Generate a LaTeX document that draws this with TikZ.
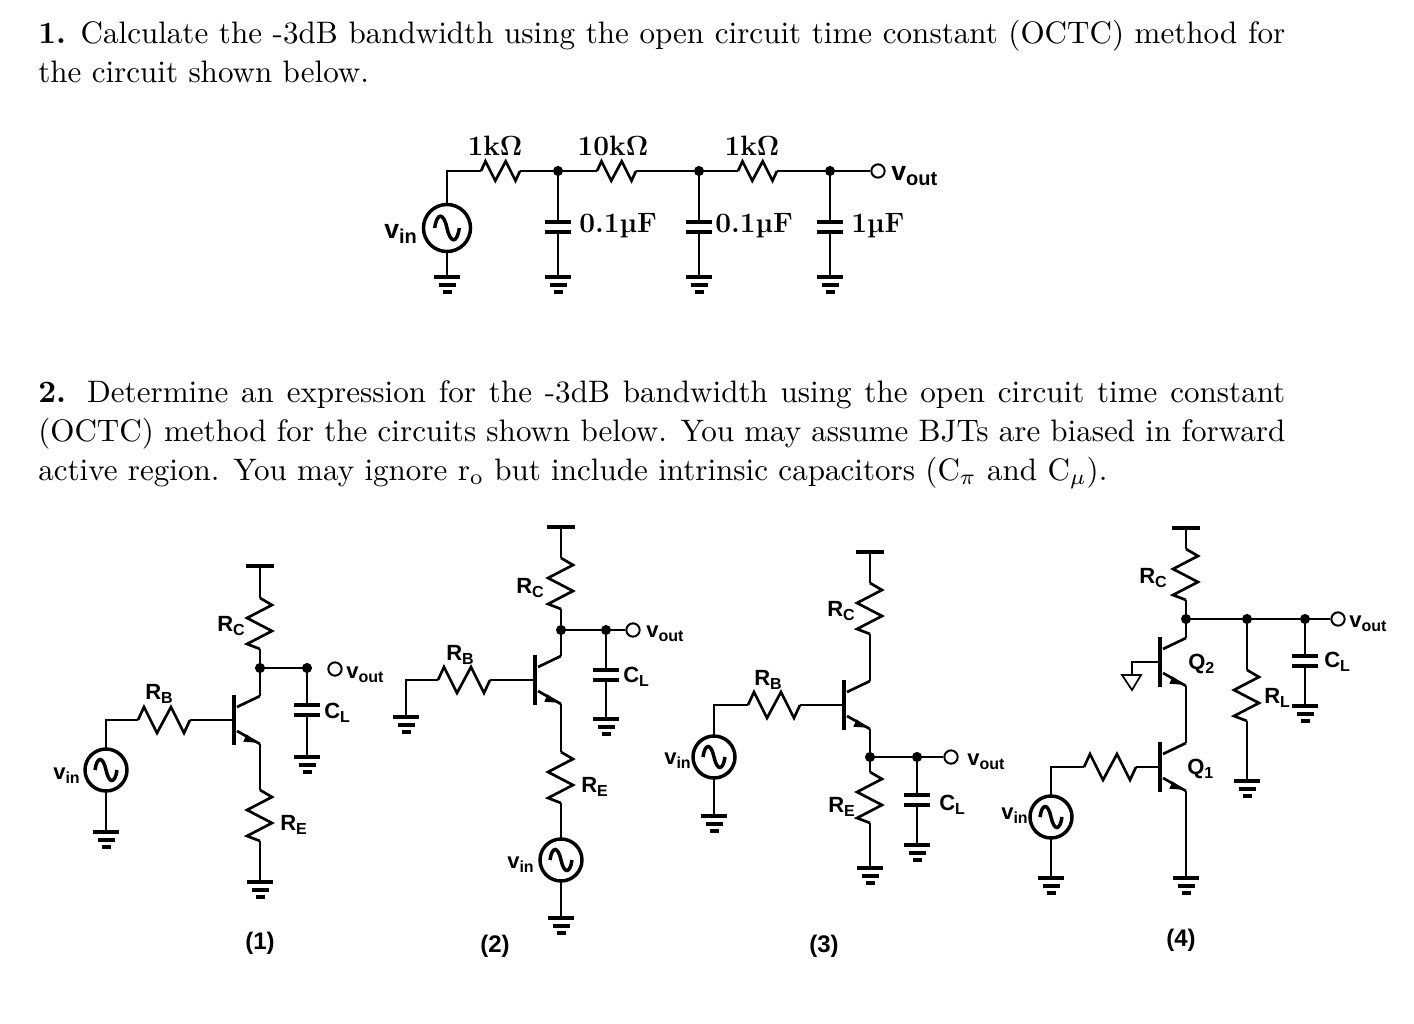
\documentclass[tikz,border=0pt]{standalone}
\usepackage[no-math]{fontspec}
\usepackage{amsmath, amssymb}
\newfontfamily\lblfont{Liberation Sans}
\newcommand{\cirlbl}[2]{{\lblfont\bfseries\fontsize{16.5}{16.5}\selectfont #1\raisebox{-3pt}{\fontsize{12}{12}\selectfont #2}}}
\newcommand{\biglbl}[2]{{\lblfont\bfseries\fontsize{20}{20}\selectfont #1\raisebox{-3.5pt}{\fontsize{15}{15}\selectfont #2}}}
\newcommand{\vallbl}[1]{{\bfseries\fontsize{21}{21}\selectfont #1}}
\newcommand{\capnum}[1]{{\lblfont\bfseries\fontsize{18}{18}\selectfont #1}}
\tikzset{
  wire/.style={line width=2},
  jdot/.style={circle,fill=black,inner sep=0pt,minimum size=7.6pt},
  opendot/.style={circle,draw,line width=1.5,inner sep=0pt,minimum size=10pt},
  txtlbl/.style={anchor=west,inner sep=0.75pt},
  pics/resh/.style={code={
    \draw[wire] (0,0) -- (6,13) -- (19,-13) -- (33,13) -- (46,-13) -- (52,0);
    \coordinate (-a) at (0,0); \coordinate (-b) at (52,0);
  }},
  pics/resv/.style={code={
    \draw[wire] (0,0) -- (12,-7) -- (-13,-20) -- (12,-33) -- (-13,-46) -- (0,-51);
    \coordinate (-a) at (0,0); \coordinate (-b) at (0,-51);
  }},
  pics/capv/.style={code={
    \draw[line width=2.7] (-13,5) -- (13,5) (-13,-5) -- (13,-5);
    \coordinate (-a) at (0,5); \coordinate (-b) at (0,-5);
  }},
  pics/gndsym/.style={code={
    \draw[line width=2.7] (-13,0) -- (13,0);
    \draw[line width=2.7] (-8.5,-8) -- (8.5,-8);
    \draw[line width=2.7] (-4.5,-15) -- (4.5,-15);
    \coordinate (-a) at (0,0);
  }},
  pics/vddbar/.style={code={
    \draw[line width=2.7] (-14,0) -- (14,0);
    \coordinate (-a) at (0,0);
  }},
  pics/srcac/.style={code={
    \draw[line width=2.6] (0,0) circle (21);
    \draw[line width=2.6] (-11,0) .. controls (-9,14) and (-3,14) .. (0,0) .. controls (3,-14) and (9,-14) .. (11,0);
    \coordinate (-t) at (0,21); \coordinate (-b) at (0,-21);
  }},
  pics/npnq/.style={code={
    \draw[line width=2.7] (0,-25) -- (0,25);
    \draw[wire] (3,13) -- (26,24);
    \draw[wire] (3,-11) -- (26,-24);
    \fill (22.7,-22.7) -- (12.7,-14.3) -- (9.3,-21.7) -- cycle;
    \coordinate (-g) at (0,0); \coordinate (-c) at (26,24); \coordinate (-e) at (26,-24);
  }}
}

\begin{document}
\begin{tikzpicture}[x=0.75pt,y=0.75pt,yscale=-1,xscale=1]
  \useasboundingbox (0,0) rectangle (1414,1024);

  % Text Node
  \node (probA) [anchor=north west,inner sep=0pt] at (38,20) {\scalebox{2.33}{\parbox{401.4pt}{\baselineskip=12.55pt
    \textbf{1.} Calculate the -3dB bandwidth using the open circuit time constant (OCTC) method for\linebreak
    the circuit shown below.}}};
  % Text Node
  \node (probB) [anchor=north west,inner sep=0pt] at (38,380) {\scalebox{2.33}{\parbox{401.4pt}{\baselineskip=12.55pt
    \textbf{2.} Determine an expression for the -3dB bandwidth using the open circuit time constant\linebreak
    (OCTC) method for the circuits shown below. You may assume BJTs are biased in forward\linebreak
    active region. You may ignore r$_{\mathrm{o}}$ but include intrinsic capacitors (C$_\pi$ and C$_\mu$).}}};

  %Shape: RC ladder
  \pic[scale=1.12] (vsA) at (447,228) {srcac};
  \pic (gsA) at (447,277) {gndsym};
  \pic[scale=0.75] (rA) at (481,171) {resh};
  \pic[scale=0.75] (rB) at (597,171) {resh};
  \pic[scale=0.75] (rC) at (738,171) {resh};
  \node[jdot] (nA) at (558,171) {};
  \node[jdot] (nB) at (699,171) {};
  \node[jdot] (nC) at (830,171) {};
  \node[opendot] (outA) at (878,171) {};
  \pic (cA) at (558,227) {capv};
  \pic (cB) at (699,227) {capv};
  \pic (cC) at (830,227) {capv};
  \pic (gA) at (558,277) {gndsym};
  \pic (gB) at (699,277) {gndsym};
  \pic (gC) at (830,277) {gndsym};
  \draw[wire] (vsA-t) |- (rA-a);
  \draw[wire] (vsA-b) -- (gsA-a);
  \draw[wire] (rA-b) -- (nA);
  \draw[wire] (nA) -- (rB-a);
  \draw[wire] (rB-b) -- (nB);
  \draw[wire] (nB) -- (rC-a);
  \draw[wire] (rC-b) -- (nC);
  \draw[wire] (nC) -- (outA);
  \foreach \k in {A,B,C} {
    \draw[wire] (n\k) -- (c\k-a);
    \draw[wire] (c\k-b) -- (g\k-a);
  }
  \node[txtlbl] (lblVinA) at (383,234) {\biglbl{v}{in}};
  \node[txtlbl] (lblVoutA) at (890,176) {\biglbl{v}{out}};
  \node[anchor=center,inner sep=0.75pt] (lblRA) at (495,146) {\vallbl{1k$\mathbf{\Omega}$}};
  \node[anchor=center,inner sep=0.75pt] (lblRB) at (613,146) {\vallbl{10k$\mathbf{\Omega}$}};
  \node[anchor=center,inner sep=0.75pt] (lblRC) at (752,146) {\vallbl{1k$\mathbf{\Omega}$}};
  \node[txtlbl] (lblCA) at (578,226) {\vallbl{0.1µF}};
  \node[txtlbl] (lblCB) at (714,226) {\vallbl{0.1µF}};
  \node[txtlbl] (lblCC) at (850,226) {\vallbl{1µF}};

  %Shape: Circuit 1
  \pic (qI) at (234,720) {npnq};
  \pic (vddI) at (260,566) {vddbar};
  \pic (rcI) at (260,598) {resv};
  \pic (reI) at (260,790) {resv};
  \pic (gI) at (260,882) {gndsym};
  \pic (vsI) at (106,770) {srcac};
  \pic (gsI) at (106,832) {gndsym};
  \pic (rbI) at (138,720) {resh};
  \pic (cI) at (307,710) {capv};
  \pic (gcI) at (307,757) {gndsym};
  \node[jdot] (nI) at (260,668) {};
  \node[jdot] (nIo) at (307,668) {};
  \node[opendot] (outI) at (335,669) {};
  \draw[wire] (vddI-a) -- (rcI-a);
  \draw[wire] (rcI-b) -- (nI);
  \draw[wire] (nI) -- (qI-c);
  \draw[wire] (qI-e) -- (reI-a);
  \draw[wire] (reI-b) -- (gI-a);
  \draw[wire] (vsI-t) |- (rbI-a);
  \draw[wire] (vsI-b) -- (gsI-a);
  \draw[wire] (rbI-b) -- (qI-g);
  \draw[wire] (nI) -- (nIo);
  \draw[wire] (nIo) -- (cI-a);
  \draw[wire] (cI-b) -- (gcI-a);
  \node[txtlbl] (lblRcI) at (216,626) {\cirlbl{R}{C}};
  \node[txtlbl] (lblRbI) at (144,694) {\cirlbl{R}{B}};
  \node[txtlbl] (lblReI) at (279,825) {\cirlbl{R}{E}};
  \node[txtlbl] (lblClI) at (323,713) {\cirlbl{C}{L}};
  \node[txtlbl] (lblVinI) at (52,776) {\cirlbl{v}{in}};
  \node[txtlbl] (lblVoutI) at (345,675) {\cirlbl{v}{out}};
  \node[anchor=center,inner sep=0.75pt] (lblI) at (260,943) {\capnum{(1)}};

  %Shape: Circuit 2
  \pic (qII) at (535,680) {npnq};
  \pic (vddII) at (561,527) {vddbar};
  \pic (rcII) at (561,558) {resv};
  \pic (reII) at (561,752) {resv};
  \pic (vsII) at (561,860) {srcac};
  \pic (gsII) at (561,918) {gndsym};
  \pic (rbII) at (438,680) {resh};
  \pic (gbII) at (406,717) {gndsym};
  \pic (cII) at (606,675) {capv};
  \pic (gcII) at (606,719) {gndsym};
  \node[jdot] (nII) at (561,630) {};
  \node[jdot] (nIIo) at (606,630) {};
  \node[opendot] (outII) at (633,630) {};
  \draw[wire] (vddII-a) -- (rcII-a);
  \draw[wire] (rcII-b) -- (nII);
  \draw[wire] (nII) -- (qII-c);
  \draw[wire] (qII-e) -- (reII-a);
  \draw[wire] (reII-b) -- (vsII-t);
  \draw[wire] (vsII-b) -- (gsII-a);
  \draw[wire] (gbII-a) |- (rbII-a);
  \draw[wire] (rbII-b) -- (qII-g);
  \draw[wire] (nII) -- (nIIo);
  \draw[wire] (nIIo) -- (outII);
  \draw[wire] (nIIo) -- (cII-a);
  \draw[wire] (cII-b) -- (gcII-a);
  \node[txtlbl] (lblRcII) at (515,588) {\cirlbl{R}{C}};
  \node[txtlbl] (lblRbII) at (445,655) {\cirlbl{R}{B}};
  \node[txtlbl] (lblReII) at (580,787) {\cirlbl{R}{E}};
  \node[txtlbl] (lblClII) at (622,677) {\cirlbl{C}{L}};
  \node[txtlbl] (lblVinII) at (506,865) {\cirlbl{v}{in}};
  \node[txtlbl] (lblVoutII) at (645,634) {\cirlbl{v}{out}};
  \node[anchor=center,inner sep=0.75pt] (lblII) at (495,946) {\capnum{(2)}};

  %Shape: Circuit 3
  \pic (qIII) at (844,705) {npnq};
  \pic (vddIII) at (870,552) {vddbar};
  \pic (rcIII) at (870,583) {resv};
  \pic (reIII) at (870,772) {resv};
  \pic (gIII) at (870,868) {gndsym};
  \pic (vsIII) at (714,757) {srcac};
  \pic (gsIII) at (714,816) {gndsym};
  \pic (rbIII) at (748,705) {resh};
  \pic (cIII) at (917,800) {capv};
  \pic (gcIII) at (917,845) {gndsym};
  \node[jdot] (nIII) at (870,757) {};
  \node[jdot] (nIIIo) at (917,757) {};
  \node[opendot] (outIII) at (951,757) {};
  \draw[wire] (vddIII-a) -- (rcIII-a);
  \draw[wire] (rcIII-b) -- (qIII-c);
  \draw[wire] (qIII-e) -- (nIII);
  \draw[wire] (nIII) -- (reIII-a);
  \draw[wire] (reIII-b) -- (gIII-a);
  \draw[wire] (vsIII-t) |- (rbIII-a);
  \draw[wire] (vsIII-b) -- (gsIII-a);
  \draw[wire] (rbIII-b) -- (qIII-g);
  \draw[wire] (nIII) -- (nIIIo);
  \draw[wire] (nIIIo) -- (outIII);
  \draw[wire] (nIIIo) -- (cIII-a);
  \draw[wire] (cIII-b) -- (gcIII-a);
  \node[txtlbl] (lblRcIII) at (826,611) {\cirlbl{R}{C}};
  \node[txtlbl] (lblRbIII) at (753,680) {\cirlbl{R}{B}};
  \node[txtlbl] (lblReIII) at (827,807) {\cirlbl{R}{E}};
  \node[txtlbl] (lblClIII) at (938,805) {\cirlbl{C}{L}};
  \node[txtlbl] (lblVinIII) at (663,761) {\cirlbl{v}{in}};
  \node[txtlbl] (lblVoutIII) at (966,762) {\cirlbl{v}{out}};
  \node[anchor=center,inner sep=0.75pt] (lblIII) at (824,946) {\capnum{(3)}};

  %Shape: Circuit 4
  \pic (qtwo) at (1160,662) {npnq};
  \pic (qone) at (1160,767) {npnq};
  \pic (vddIV) at (1186,528) {vddbar};
  \pic (rcIV) at (1186,549) {resv};
  \pic (rlIV) at (1247,670) {resv};
  \pic (glIV) at (1247,781) {gndsym};
  \pic (gIV) at (1186,878) {gndsym};
  \pic (vsIV) at (1051,817) {srcac};
  \pic (gsIV) at (1051,878) {gndsym};
  \pic (rbIV) at (1084,767) {resh};
  \pic (cIV) at (1305,661) {capv};
  \pic (gcIV) at (1305,706) {gndsym};
  \node[jdot] (nIV) at (1186,619) {};
  \node[jdot] (nIVl) at (1247,619) {};
  \node[jdot] (nIVo) at (1305,619) {};
  \node[opendot] (outIV) at (1338,619) {};
  \coordinate (bsTwo) at (1132,662);
  \coordinate (triTop) at (1132,675);
  \draw[line width=1.3] (qtwo-g) -- (bsTwo) -- (triTop);
  \draw[line width=1.3] (1122,675) -- (1141,675) -- (1132,690) -- cycle;
  \draw[wire] (vddIV-a) -- (rcIV-a);
  \draw[wire] (rcIV-b) -- (nIV);
  \draw[wire] (nIV) -- (qtwo-c);
  \draw[wire] (qtwo-e) -- (qone-c);
  \draw[wire] (qone-e) -- (gIV-a);
  \draw[wire] (vsIV-t) |- (rbIV-a);
  \draw[wire] (vsIV-b) -- (gsIV-a);
  \draw[wire] (rbIV-b) -- (qone-g);
  \draw[wire] (nIV) -- (nIVl);
  \draw[wire] (nIVl) -- (nIVo);
  \draw[wire] (nIVo) -- (outIV);
  \draw[wire] (nIVl) -- (rlIV-a);
  \draw[wire] (rlIV-b) -- (glIV-a);
  \draw[wire] (nIVo) -- (cIV-a);
  \draw[wire] (cIV-b) -- (gcIV-a);
  \node[txtlbl] (lblRcIV) at (1138,578) {\cirlbl{R}{C}};
  \node[txtlbl] (lblRlIV) at (1263,698) {\cirlbl{R}{L}};
  \node[txtlbl] (lblClIV) at (1323,662) {\cirlbl{C}{L}};
  \node[txtlbl] (lblQtwo) at (1187,664) {\cirlbl{Q}{2}};
  \node[txtlbl] (lblQone) at (1186,769) {\cirlbl{Q}{1}};
  \node[txtlbl] (lblVinIV) at (1000,816) {\cirlbl{v}{in}};
  \node[txtlbl] (lblVoutIV) at (1348,624) {\cirlbl{v}{out}};
  \node[anchor=center,inner sep=0.75pt] (lblIV) at (1181,940) {\capnum{(4)}};
\end{tikzpicture}
\end{document}
